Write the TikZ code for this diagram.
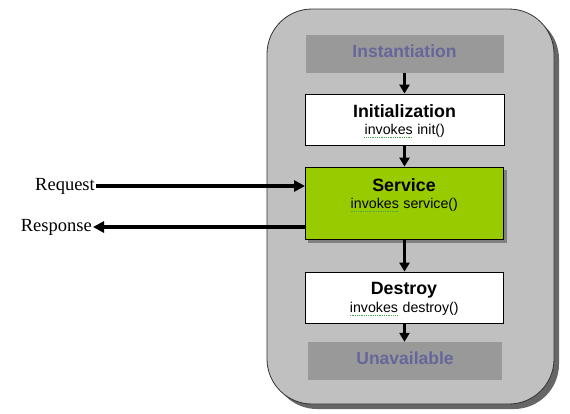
\documentclass[tikz,border=0pt]{standalone}
\usepackage{fontspec}
\setmainfont{Liberation Serif}
\setsansfont{Liberation Sans}
\usetikzlibrary{arrows.meta}
\definecolor{outerfill}{HTML}{C0C0C0}
\definecolor{statefill}{HTML}{999999}
\definecolor{statetext}{HTML}{66669A}
\definecolor{svcgreen}{HTML}{99CC00}
\definecolor{spell}{HTML}{4CA64C}
\tikzset{
  px/.style={x=1pt,y=-1pt},
  statebox/.style={fill=statefill,draw=none,minimum width=198pt,minimum height=38pt},
  statetxt/.style={font=\sffamily\bfseries\fontsize{17.5}{20}\selectfont,text=statetext,anchor=base},
  stagebox/.style={fill=white,draw=black,line width=0.8pt,minimum width=199pt,minimum height=51pt,align=center},
  flow/.style={-{Triangle[length=9pt,width=10pt]},line width=2.5pt},
  side/.style={-{Triangle[length=11pt,width=11pt]},line width=3.2pt},
  title/.style={font=\sffamily\bfseries\fontsize{17.8}{20}\selectfont},
  sub/.style={font=\sffamily\fontsize{14.2}{16}\selectfont},
  lbl/.style={font=\rmfamily\fontsize{18.5}{20}\selectfont},
}
\newcommand{\inv}{\tikz[baseline=0pt]{\node[inner sep=0pt,anchor=base west] (w) {invokes};\draw[spell,densely dotted,line width=0.8pt] ([yshift=-3pt]w.base west) -- ([yshift=-3pt]w.base east);}}
\begin{document}
\begin{tikzpicture}[px]
\useasboundingbox (0,0) rectangle (570,413);
% outer container with shadow
\fill[black!60,rounded corners=45pt] (272,14) rectangle (559,409);
\draw[fill=outerfill,draw=black!80,line width=0.8pt,rounded corners=45pt] (267,9) rectangle (554,404);
\node[statebox] (inst) at (404.5,54) {};
\node[statetxt] (instt) at (404.5,57.5) {Instantiation};
\node[stagebox] (init) at (404.5,119.5) {};
\node[title,anchor=base] (initt) at (404.5,117) {Initialization};
\node[sub,anchor=base] (inits) at (404.5,134) {\inv\ init()};
\fill[black!50] (308,170) rectangle (507,243);
\node[stagebox,fill=svcgreen,minimum height=72pt,minimum width=198pt] (svc) at (404,203) {};
\node[title,anchor=base] (svct) at (404,191) {Service};
\node[sub,anchor=base] (svcs) at (404,208) {\inv\ service()};
\node[stagebox,minimum width=198pt] (des) at (404,297.5) {};
\node[title,anchor=base] (dest) at (404,294) {Destroy};
\node[sub,anchor=base] (dess) at (404,312) {\inv\ destroy()};
\node[statebox,minimum width=194pt] (una) at (405,361) {};
\node[statetxt] (unat) at (405,364.5) {Unavailable};
\draw[flow] (inst.south -| init.north) -- (init.north);
\draw[flow] (init.south) -- (init.south |- svc.north);
\draw[flow] (init.south |- svc.south) -- (init.south |- des.north);
\draw[flow] (init.south |- des.south) -- (init.south |- una.north);
\node[lbl,anchor=east,inner sep=1pt] (req) at (96,186) {Request};
\node[lbl,anchor=east,inner sep=1pt] (resp) at (93,227) {Response};
\coordinate (svcin) at (305,186);
\coordinate (svcout) at (305,227);
\draw[side] (req.east) -- (svcin);
\draw[side] (svcout) -- (resp.east);
\end{tikzpicture}
\end{document}
